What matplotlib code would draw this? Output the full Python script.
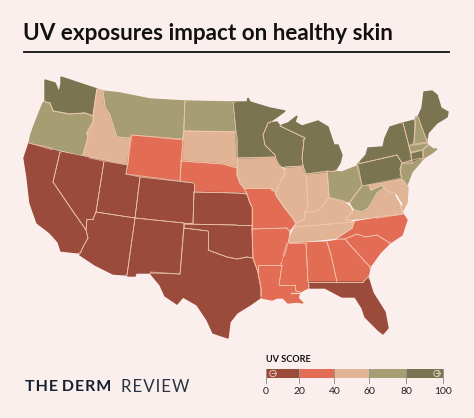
import matplotlib
matplotlib.use('Agg')
import matplotlib.pyplot as plt
from matplotlib.collections import LineCollection
from matplotlib.patches import Polygon, Rectangle, Circle
from matplotlib.path import Path
import numpy as np

# state outlines (pixel positions)
WA = [(45,80),(55,83),(58,90),(59,93),(61,84),(61,77),(97,89),(93,116),(85,113),(70,114),(53,111),(50,103),(45,102)]
OR = [(45,102),(50,103),(53,111),(70,114),(85,113),(93,116),(93,122),(87,133),(88,138),(83,155),(29,143),(31,134),(35,123),(43,103)]
ID = [(97,89),(103,91),(105,107),(110,115),(113,125),(117,137),(130,138),(128,165),(83,155),(88,138),(87,133),(93,122),(93,116)]
MT = [(103,91),(120,93),(150,99),(185,101),(183,139),(132,135),(130,138),(117,137),(113,125),(110,115),(105,107)]
ND = [(185,101),(233,102),(236,132),(184,131)]
SD = [(184,131),(236,132),(237,137),(237,168),(223,164),(181,161),(183,139)]
WY = [(132,135),(183,140),(180,181),(126,174)]
NE = [(181,161),(223,164),(237,168),(237,175),(240,183),(244,188),(247,194),(237,193),(194,192),(194,183),(180,181)]
KS = [(194,192),(237,193),(247,194),(250,203),(252,207),(252,225),(237,225),(184,224),(193,223)]
CO = [(140,177),(194,183),(194,192),(193,223),(184,223),(135,218)]
UT = [(104,161),(128,165),(126,174),(140,177),(135,218),(96,212)]
NV = [(60,152),(104,161),(96,212),(93,219),(87,219),(86,230),(72,210),(53,182)]
CA = [(29,143),(60,152),(53,182),(72,210),(86,230),(88,238),(83,247),(80,253),(61,251),(58,242),(50,233),(37,223),(30,203),(27,177),(24,158)]
AZ = [(96,212),(135,218),(127,275),(113,274),(95,265),(80,255),(83,247),(88,238),(86,230),(87,219),(93,219)]
NM = [(135,218),(184,223),(180,274),(150,272),(149,273),(136,273),(135,276),(128,276),(127,275)]
OK = [(184,224),(237,225),(252,225),(253,258),(247,257),(237,259),(227,257),(208,250),(208,231),(184,228)]
TX = [(184,228),(208,231),(208,250),(227,257),(237,259),(247,257),(253,258),(258,272),(261,288),(260,298),(250,305),(237,313),(230,322),(228,338),(213,333),(207,320),(197,305),(183,297),(177,304),(165,296),(160,285),(150,273),(180,274)]
MO = [(244,188),(270,188),(276,195),(284,207),(292,217),(295,223),(289,231),(287,228),(252,229),(252,207),(250,203),(247,194)]
AR = [(252,229),(287,228),(289,231),(289,233),(287,243),(280,265),(258,265),(258,272),(253,258)]
LA = [(258,265),(282,265),(279,285),(295,285),(296,291),(300,292),(298,298),(303,303),(297,302),(288,303),(283,298),(277,298),(272,300),(262,298),(261,288),(258,273)]
MS = [(288,243),(306,243),(308,282),(308,288),(300,292),(296,291),(295,285),(279,285),(282,265)]
AL = [(306,243),(327,242),(331,255),(337,282),(308,282)]
GA = [(327,242),(345,239),(350,245),(370,267),(368,277),(363,282),(337,282),(331,255)]
FL = [(308,282),(337,282),(363,282),(368,277),(373,293),(385,312),(388,328),(383,334),(378,330),(365,317),(362,308),(355,297),(342,297),(325,288),(310,288)]
SC = [(345,239),(357,234),(365,237),(377,235),(390,243),(380,253),(370,267),(350,245)]
NC = [(337,238),(352,228),(354,222),(403,214),(407,220),(402,235),(390,243),(377,235),(365,237),(357,234),(345,239)]
TN = [(289,243),(290,237),(295,227),(354,222),(352,228),(337,238)]
KY = [(295,227),(297,223),(304,220),(305,213),(319,210),(329,198),(344,202),(350,207),(352,212),(345,220),(354,222)]
VA = [(345,220),(403,214),(402,212),(400,203),(395,193),(390,192),(384,188),(377,193),(373,200),(368,208),(362,212),(355,210),(352,212)]
WV = [(350,202),(355,195),(362,186),(369,185),(371,190),(382,185),(384,188),(377,193),(373,200),(368,208),(362,212),(355,210)]
MD = [(369,185),(383,183),(400,180),(402,180),(408,188),(407,203),(402,212),(400,203),(395,193),(390,192),(384,188),(382,185),(371,190)]
OH = [(327,171),(342,172),(357,166),(362,186),(355,195),(350,202),(344,201),(329,197)]
IN = [(306,174),(327,171),(329,197),(319,210),(305,213),(308,205)]
IL = [(285,167),(303,166),(306,174),(308,205),(305,213),(304,220),(296,223),(292,217),(284,207),(276,195),(279,185),(285,175)]
IA = [(237,158),(275,157),(279,165),(285,172),(279,185),(276,192),(270,188),(244,188),(240,183),(237,175),(237,168)]
MN = [(233,102),(247,102),(248,98),(250,102),(260,105),(270,108),(285,111),(277,117),(268,123),(263,135),(265,145),(275,155),(275,157),(237,158),(236,132)]
WI = [(268,123),(277,122),(280,126),(305,138),(298,145),(304,140),(302,158),(303,166),(285,167),(279,165),(275,157),(275,155),(265,145),(263,135)]
MI = [(280,126),(282,125),(288,123),(297,116),(295,122),(302,126),(318,121),(328,127),(334,145),(338,145),(342,155),(340,163),(335,171),(306,174),(303,166),(302,158),(304,140),(305,138)]
PA = [(358,164),(397,155),(402,163),(400,175),(402,178),(362,186)]
NY = [(403,123),(390,127),(385,138),(383,147),(368,148),(366,155),(358,164),(397,155),(402,163),(412,163),(409,146)]
NJ = [(402,163),(413,160),(420,158),(424,158),(412,172),(407,185),(402,178),(400,169)]
CT = [(411,152),(422,150),(423,158),(412,163)]
MA = [(409,146),(427,143),(428,145),(422,150),(411,153)]
VT = [(403,123),(415,120),(414,142),(409,146)]
NH = [(416,117),(418,117),(427,142),(414,144)]
ME = [(424,92),(432,91),(437,95),(441,108),(448,112),(447,117),(437,123),(428,133),(427,141),(418,117),(422,108)]
RI = [(428,145),(433,149),(437,149),(432,153),(424,158),(423,150)]

STATES = [WA, OR, ID, MT, ND, SD, WY, NE, KS, CO, UT, NV, CA, AZ, NM, OK, TX, MO, AR, LA, MS, AL, GA, FL, SC, NC,
          TN, KY, VA, WV, MD, OH, IN, IL, IA, MN, WI, MI, PA, NY, NJ, CT, MA, VT, NH, ME, RI]
SCORES = [90, 70, 50, 70, 70, 50, 30, 30, 10, 10, 10, 10, 10, 10, 10, 10, 10, 30, 30, 30, 30, 30, 30, 10, 30, 30,
          50, 50, 50, 70, 50, 70, 50, 50, 50, 90, 90, 90, 90, 90, 70, 90, 70, 90, 70, 90, 70]

# colour scale
BIN_TOPS = [20, 40, 60, 80, 100]
BIN_COLORS = ['#9B4B3C', '#E36C54', '#E1B496', '#A69D72', '#7B7450']
TICK_VALUES = [0, 20, 40, 60, 80, 100]
TICK_PX = [266, 299.5, 334.5, 369, 406, 443]  # legend is not evenly spaced

BG = '#FBEFEE'
LINE = '#F0C9B2'
TEXT = '#111111'


def bin_color(score):
    for top, col in zip(BIN_TOPS, BIN_COLORS):
        if score <= top:
            return col
    return BIN_COLORS[-1]


def inner_borders(states, step=1.5, reach=1.6):
    # keep only the bits of each outline that touch a neighbouring state, the coast gets no line
    paths = [Path(np.array(s + [s[0]], dtype=float), closed=True) for s in states]
    segs = []
    for i, s in enumerate(states):
        pts = s + [s[0]]
        for a, b in zip(pts[:-1], pts[1:]):
            a, b = np.array(a, float), np.array(b, float)
            n = max(int(np.hypot(*(b - a)) / step), 1)
            for k in range(n):
                p = a + (b - a) * k / n
                q = a + (b - a) * (k + 1) / n
                mid = (p + q) / 2
                touching = False
                for dx, dy in [(reach, 0), (-reach, 0), (0, reach), (0, -reach)]:
                    probe = (mid[0] + dx, mid[1] + dy)
                    for j, other in enumerate(paths):
                        if j != i and other.contains_point(probe):
                            touching = True
                if touching:
                    segs.append([p, q])
    return segs


fig = plt.figure(figsize=(4.74, 4.18), dpi=100, facecolor=BG)
ax = fig.add_axes([0, 0, 1, 1])
ax.set_xlim(0, 474)
ax.set_ylim(418, 0)
ax.axis('off')

for verts, score in zip(STATES, SCORES):
    col = bin_color(score)
    ax.add_patch(Polygon(verts, closed=True, facecolor=col, edgecolor=col, linewidth=1.0))
ax.add_collection(LineCollection(inner_borders(STATES), colors=LINE, linewidths=0.55, alpha=0.75, capstyle='round'))

# chesapeake and the mississippi delta inlet
ax.plot([396, 399, 402], [195, 200, 205], color='white', lw=1.0, solid_capstyle='round')
ax.plot([291, 300], [293, 293], color='#F5D5C5', lw=0.9)

# title and rule
ax.text(23, 33, 'UV exposures impact on healthy skin', fontsize=16.2, fontweight='bold', family='Lato',
        color=TEXT, va='center', ha='left')
ax.plot([24, 449], [52, 52], color=TEXT, lw=1.3)

# logo
ax.text(25, 387, '\u200a'.join('THE') + ' ' + '\u200a'.join('DERM'), fontsize=11.5, fontweight='bold', family='Lato',
        color='#152030', va='center')
ax.text(121, 387, '\u200a'.join('REVIEW'), fontsize=12.2, fontweight='normal', family='Lato', color='#2A3442', va='center')

# legend
ax.text(266, 360, 'UV SCORE', fontsize=6.6, fontweight='bold', family='Lato', color=TEXT, va='center')
for i, col in enumerate(BIN_COLORS):
    ax.add_patch(Rectangle((TICK_PX[i], 369), TICK_PX[i + 1] - TICK_PX[i], 9, facecolor=col, edgecolor='none'))
for px, val in zip(TICK_PX, TICK_VALUES):
    ax.plot([px, px], [369, 383], color='#9A9590', lw=0.7)
    ax.text(px, 391, str(val), fontsize=7.5, family='Lato', color='#222222', ha='center', va='center')
for cx, sign, col in [(273, '\u2212', BIN_COLORS[0]), (437, '+', BIN_COLORS[-1])]:
    ax.add_patch(Circle((cx, 373.5), 3.2, facecolor=col, edgecolor='#E8D8C8', linewidth=0.6))
    ax.text(cx, 373.3, sign, fontsize=5.5, color='#E8D8C8', ha='center', va='center')

fig.savefig('out.png', dpi=100, facecolor=BG)
